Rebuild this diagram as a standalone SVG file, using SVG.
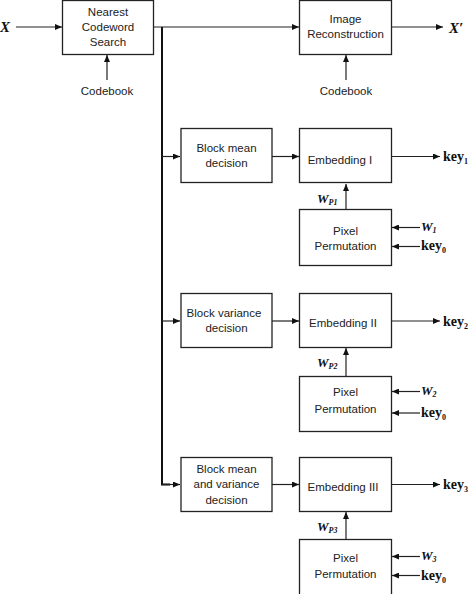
<svg xmlns="http://www.w3.org/2000/svg" width="474" height="594" viewBox="0 0 474 594">
<style>
.box{fill:#fff;stroke:#222;stroke-width:1.3}
.ln{fill:none;stroke:#222;stroke-width:1.2}
.bus{fill:none;stroke:#111;stroke-width:2}
.t{font-family:"Liberation Sans",Arial,sans-serif;font-size:11.5px;fill:#222;text-anchor:middle}
.s{font-family:"Liberation Serif","Times New Roman",serif;font-weight:bold;fill:#111}
.sub{font-size:8px}
</style>
<defs>
<marker id="ah" markerUnits="userSpaceOnUse" markerWidth="8" markerHeight="6" refX="7" refY="3" orient="auto">
<path d="M0,0 L7,3 L0,6 z" fill="#111"/>
</marker>
</defs>
<rect width="474" height="594" fill="#fff"/>

<g id="connectors">
<line class="ln" x1="16" y1="27" x2="62" y2="27" marker-end="url(#ah)"/>
<line class="ln" x1="153" y1="27" x2="299" y2="27" marker-end="url(#ah)"/>
<line class="ln" x1="391" y1="27" x2="443" y2="27" marker-end="url(#ah)"/>
<line class="ln" x1="107" y1="80" x2="107" y2="55" marker-end="url(#ah)"/>
<line class="ln" x1="346" y1="80" x2="346" y2="55" marker-end="url(#ah)"/>
<polyline class="bus" points="162,27 162,484.5 170,484.5"/>
<line class="ln" x1="162" y1="484.5" x2="180" y2="484.5" marker-end="url(#ah)"/>
<line class="ln" x1="162" y1="156.5" x2="180" y2="156.5" marker-end="url(#ah)"/>
<line class="ln" x1="162" y1="321" x2="180" y2="321" marker-end="url(#ah)"/>
<!-- section 1 -->
<line class="ln" x1="272" y1="156.5" x2="299" y2="156.5" marker-end="url(#ah)"/>
<line class="ln" x1="392" y1="156.5" x2="440" y2="156.5" marker-end="url(#ah)"/>
<line class="ln" x1="346" y1="209" x2="346" y2="184" marker-end="url(#ah)"/>
<line class="ln" x1="420" y1="227.5" x2="392" y2="227.5" marker-end="url(#ah)"/>
<line class="ln" x1="420" y1="246.5" x2="392" y2="246.5" marker-end="url(#ah)"/>
<!-- section 2 -->
<line class="ln" x1="272" y1="321" x2="299" y2="321" marker-end="url(#ah)"/>
<line class="ln" x1="392" y1="321" x2="440" y2="321" marker-end="url(#ah)"/>
<line class="ln" x1="346" y1="376" x2="346" y2="348" marker-end="url(#ah)"/>
<line class="ln" x1="420" y1="391.5" x2="392" y2="391.5" marker-end="url(#ah)"/>
<line class="ln" x1="420" y1="413" x2="392" y2="413" marker-end="url(#ah)"/>
<!-- section 3 -->
<line class="ln" x1="272" y1="484.5" x2="299" y2="484.5" marker-end="url(#ah)"/>
<line class="ln" x1="392" y1="484.5" x2="440" y2="484.5" marker-end="url(#ah)"/>
<line class="ln" x1="346" y1="539" x2="346" y2="512" marker-end="url(#ah)"/>
<line class="ln" x1="420" y1="556.5" x2="392" y2="556.5" marker-end="url(#ah)"/>
<line class="ln" x1="420" y1="575.5" x2="392" y2="575.5" marker-end="url(#ah)"/>
</g>

<g id="X-in"><text class="s" x="0" y="32" font-size="15" font-style="italic">X</text></g>
<g id="X-out"><text class="s" x="449" y="33" font-size="15" font-style="italic">X′</text></g>

<g id="nearest">
<rect class="box" x="62.5" y="0.5" width="91" height="54"/>
<text class="t" x="108" y="16">Nearest</text>
<text class="t" x="108" y="31">Codeword</text>
<text class="t" x="108" y="46">Search</text>
</g>
<g id="codebook1"><text class="t" x="107" y="95">Codebook</text></g>

<g id="recon">
<rect class="box" x="299.5" y="0.5" width="92" height="54"/>
<text class="t" x="345.5" y="23">Image</text>
<text class="t" x="345.5" y="38">Reconstruction</text>
</g>
<g id="codebook2"><text class="t" x="346" y="95">Codebook</text></g>

<!-- section 1 -->
<g id="block1">
<rect class="box" x="181" y="128.5" width="91" height="54"/>
<text class="t" x="226.5" y="152">Block mean</text>
<text class="t" x="226.5" y="166.5">decision</text>
</g>
<g id="emb1">
<rect class="box" x="299.5" y="128.5" width="92" height="54"/>
<text class="t" x="340" y="164">Embedding I</text>
</g>
<g id="perm1">
<rect class="box" x="299.5" y="209.5" width="92" height="56"/>
<text class="t" x="345.5" y="235">Pixel</text>
<text class="t" x="345.5" y="250">Permutation</text>
</g>
<g id="lbl1">
<text class="s" x="317" y="203" font-size="13" font-style="italic">W<tspan class="sub" dy="2">P1</tspan></text>
<text class="s" x="421" y="231" font-size="13" font-style="italic">W<tspan class="sub" dy="2">1</tspan></text>
<text class="s" x="421" y="250" font-size="14">key<tspan class="sub" dy="3">0</tspan></text>
<text class="s" x="443" y="161" font-size="14">key<tspan class="sub" dy="3">1</tspan></text>
</g>

<!-- section 2 -->
<g id="block2">
<rect class="box" x="181" y="293.5" width="91" height="54"/>
<text class="t" x="224" y="316.5">Block variance</text>
<text class="t" x="226.5" y="331.5">decision</text>
</g>
<g id="emb2">
<rect class="box" x="299.5" y="293.5" width="92" height="54"/>
<text class="t" x="343" y="327">Embedding II</text>
</g>
<g id="perm2">
<rect class="box" x="299.5" y="376.5" width="92" height="55"/>
<text class="t" x="345.5" y="396">Pixel</text>
<text class="t" x="345.5" y="413">Permutation</text>
</g>
<g id="lbl2">
<text class="s" x="317" y="367" font-size="13" font-style="italic">W<tspan class="sub" dy="2">P2</tspan></text>
<text class="s" x="421" y="395" font-size="13" font-style="italic">W<tspan class="sub" dy="2">2</tspan></text>
<text class="s" x="421" y="417" font-size="14">key<tspan class="sub" dy="3">0</tspan></text>
<text class="s" x="443" y="325.5" font-size="14">key<tspan class="sub" dy="3">2</tspan></text>
</g>

<!-- section 3 -->
<g id="block3">
<rect class="box" x="181" y="457.5" width="91" height="54"/>
<text class="t" x="226.5" y="472.5">Block mean</text>
<text class="t" x="226.5" y="488">and variance</text>
<text class="t" x="226.5" y="503.5">decision</text>
</g>
<g id="emb3">
<rect class="box" x="299.5" y="457.5" width="92" height="54"/>
<text class="t" x="343" y="490.5">Embedding III</text>
</g>
<g id="perm3">
<rect class="box" x="299.5" y="539.5" width="92" height="60"/>
<text class="t" x="345.5" y="562">Pixel</text>
<text class="t" x="345.5" y="578">Permutation</text>
</g>
<g id="lbl3">
<text class="s" x="317" y="531" font-size="13" font-style="italic">W<tspan class="sub" dy="2">P3</tspan></text>
<text class="s" x="421" y="560" font-size="13" font-style="italic">W<tspan class="sub" dy="2">3</tspan></text>
<text class="s" x="421" y="579.5" font-size="14">key<tspan class="sub" dy="3">0</tspan></text>
<text class="s" x="443" y="489" font-size="14">key<tspan class="sub" dy="3">3</tspan></text>
</g>
</svg>
